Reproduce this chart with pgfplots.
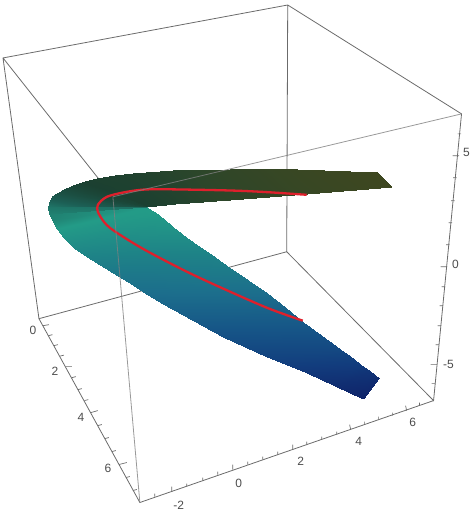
\documentclass[border=0pt]{standalone}
\usepackage{fontspec}
\setmainfont{Liberation Sans}
\usepackage{pgfplots}
\pgfplotsset{compat=1.18}
\definecolor{boxg}{gray}{0.42}
\begin{document}
\begin{tikzpicture}
\begin{axis}[
  scale only axis, width=474pt, height=513pt,
  xmin=0, xmax=474, ymin=0, ymax=513, y dir=reverse,
  axis line style={draw=none}, ticks=none, clip=false,
  unbounded coords=jump,
  colormap={strip}{
    rgb255(0)=(62,71,32)
    rgb255(20)=(44,70,42)
    rgb255(35)=(27,64,49)
    rgb255(42)=(28,95,85)
    rgb255(50)=(35,155,135)
    rgb255(60)=(30,130,135)
    rgb255(70)=(28,110,140)
    rgb255(80)=(22,85,135)
    rgb255(90)=(18,60,125)
    rgb255(100)=(15,35,105)
  },
  point meta min=0, point meta max=1,
]
% back edges of the box
\addplot[boxg, line width=0.8pt] coordinates {
 (39,319) (3,58) (288,5) (462,114) (434,401) (287,252) (288,5)
 (nan,nan) (287,252) (39,319) (140,503) (434,401)
 (nan,nan) (3,58) (113,197)
};
% surface
\addplot[surf, shader=interp, mesh/cols=2, point meta=explicit] table[x=x,y=y,meta=c] {
x y c
377 172 0.00
392 187 0.00
297 169 0.06
307 194 0.08
230 169 0.14
230 200 0.18
173 170 0.24
175 204.5 0.30
133 173 0.30
147 207 0.35
115 175 0.32
147 207 0.35
97 178 0.33
147 207 0.355
85 181 0.345
147 207 0.36
73 185 0.36
147 207 0.36
64.5 189 0.375
147 207 0.365
57 193 0.39
147 207 0.37
52.5 196.5 0.405
147 207 0.375
50 200 0.42
147 207 0.38
48 207 0.45
147 207 0.44
49.5 214 0.465
147 207 0.50
52 220 0.47
147 207 0.50
57 229 0.50
151 210 0.50
63 237 0.53
155 212.5 0.50
74 248 0.57
164 219.5 0.515
87 257 0.60
173 227 0.53
100 265.5 0.625
186 237 0.555
113 273 0.65
200 247 0.58
128 282.5 0.675
215 257.5 0.605
143 292 0.70
230 268 0.63
163 304 0.73
248 280.5 0.665
183 315 0.76
267 293 0.70
203 326.5 0.79
285 307 0.74
223 337 0.82
303 322 0.78
245 347.5 0.845
321 335.5 0.815
267 357 0.87
340 349 0.85
287 365 0.895
350 356.5 0.875
307 373 0.92
360 364 0.90
335 386 0.96
370 371 0.93
363 399 1.00
379 378 0.96
};
% red curve
\addplot[color={rgb,255:red,222;green,32;blue,44}, line width=2.3pt, smooth, tension=0.5] coordinates {
 (307,195) (270,192.5) (240,191) (200,190) (150,189.5) (127,192) (107,197) (98,205) (98,212)
 (104,222) (114,231) (143,249) (183,270) (217,286) (267,308) (303,321)
};
% front edges of the box
\addplot[color=black!50, opacity=0.8, line width=0.8pt] coordinates {(113,197) (140,503)};
\addplot[color=black!50, opacity=0.8, line width=0.8pt] coordinates {(113,197) (462,114)};
% ticks
\addplot[boxg, line width=0.7pt] coordinates {
 (43,326)(49,325) (nan,nan) (66,367)(72,367) (nan,nan) (91,413)(98,411) (nan,nan) (119,465)(127,463) (nan,nan)
 (48.5,336)(52.5,335) (nan,nan) (54,346)(58,345) (nan,nan) (60,356.5)(64,355.5) (nan,nan)
 (72,378)(76,377) (nan,nan) (78,390)(82,389) (nan,nan) (84.5,401)(88.5,400) (nan,nan)
 (98,426)(102,425) (nan,nan) (105,439)(109,438) (nan,nan) (112,452)(116,451) (nan,nan)
 (126,478)(130,477) (nan,nan) (133,491)(137,490) (nan,nan)
 (172,492)(172,487) (nan,nan) (233,470)(233,465) (nan,nan) (293,450)(293,445) (nan,nan) (351,430)(350,425) (nan,nan) (407,411)(406,406) (nan,nan)
 (155,497)(155,494) (nan,nan) (187,487)(187,484) (nan,nan) (203,481)(203,478) (nan,nan) (218,475)(218,472) (nan,nan)
 (248,465)(248,462) (nan,nan) (263,460)(263,457) (nan,nan) (278,455)(278,452) (nan,nan)
 (307,445)(307,442) (nan,nan) (322,440)(322,437) (nan,nan) (337,435)(337,432) (nan,nan)
 (365,425)(365,422) (nan,nan) (379,420)(379,417) (nan,nan) (393,416)(393,413) (nan,nan) (420,406)(420,403) (nan,nan)
 (459.5,156)(453,156) (nan,nan) (447.5,267)(441,267) (nan,nan) (437.5,365)(431,365) (nan,nan)
 (461.5,134)(458,134) (nan,nan) (457,178)(453.5,178) (nan,nan) (455,201)(451.5,201) (nan,nan) (452.5,223)(449,223) (nan,nan) (450,245)(446.5,245) (nan,nan)
 (445.5,287)(442,287) (nan,nan) (443.5,306)(440,306) (nan,nan) (441.5,326)(438,326) (nan,nan) (439.5,345)(436,345) (nan,nan) (435.5,384)(432,384)
};
% tick labels
\node[text=black!70, font=\fontsize{12}{14}\selectfont] at (axis cs:33,331) {0};
\node[text=black!70, font=\fontsize{12}{14}\selectfont] at (axis cs:55,372) {2};
\node[text=black!70, font=\fontsize{12}{14}\selectfont] at (axis cs:81,418) {4};
\node[text=black!70, font=\fontsize{12}{14}\selectfont] at (axis cs:108,469) {6};
\node[text=black!70, font=\fontsize{12}{14}\selectfont] at (axis cs:179,506) {-2};
\node[text=black!70, font=\fontsize{12}{14}\selectfont] at (axis cs:239,484) {0};
\node[text=black!70, font=\fontsize{12}{14}\selectfont] at (axis cs:301,462) {2};
\node[text=black!70, font=\fontsize{12}{14}\selectfont] at (axis cs:359,442) {4};
\node[text=black!70, font=\fontsize{12}{14}\selectfont] at (axis cs:413,423) {6};
\node[text=black!70, font=\fontsize{12}{14}\selectfont] at (axis cs:449,365) {-5};
\node[text=black!70, font=\fontsize{12}{14}\selectfont] at (axis cs:456,265) {0};
\node[text=black!70, font=\fontsize{12}{14}\selectfont] at (axis cs:467,153) {5};
\end{axis}
\end{tikzpicture}
\end{document}
